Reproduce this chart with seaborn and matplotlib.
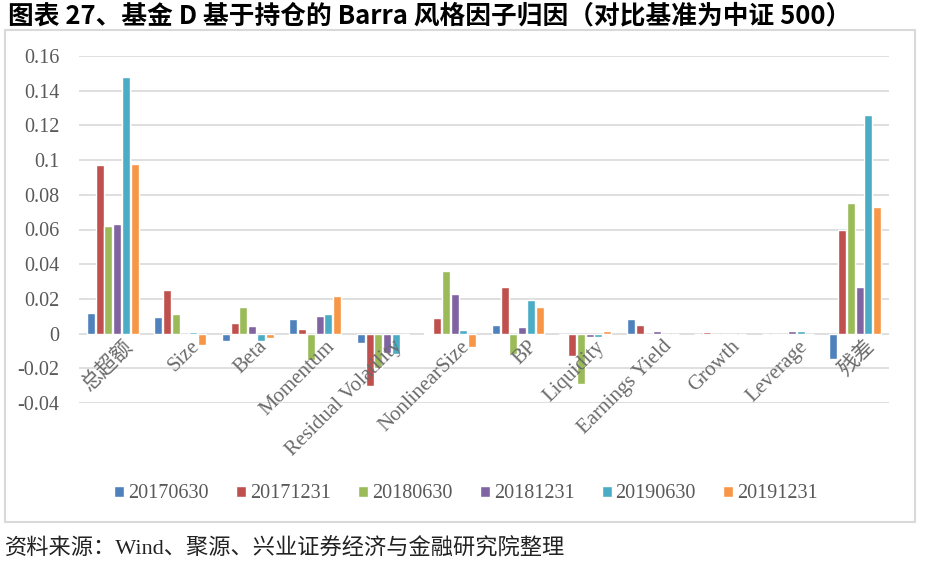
import numpy as np
import pandas as pd
import matplotlib
matplotlib.use('Agg')
import matplotlib.pyplot as plt
from matplotlib.patches import Rectangle
import seaborn as sns

# chart values
factors = ['总超额', 'Size', 'Beta', 'Momentum', 'Residual Volatility', 'NonlinearSize',
           'BP', 'Liquidity', 'Earnings Yield', 'Growth', 'Leverage', '残差']
dates = ['20170630', '20171231', '20180630', '20181231', '20190630', '20191231']
v20170630 = [0.012, 0.0098, -0.0045, 0.0085, -0.0057, 0.0002, 0.0051, -0.001, 0.0085, 0.0, 0.0, -0.0144]
v20171231 = [0.097, 0.0249, 0.0059, 0.0027, -0.030, 0.0089, 0.0266, -0.013, 0.0048, 0.001, 0.0, 0.0597]
v20180630 = [0.062, 0.0112, 0.0155, -0.015, -0.020, 0.036, -0.012, -0.029, -0.001, -0.001, 0.0, 0.0751]
v20181231 = [0.063, 0.0, 0.0043, 0.0103, -0.011, 0.0227, 0.0037, -0.002, 0.0013, 0.0, 0.0015, 0.0266]
v20190630 = [0.148, 0.001, -0.0045, 0.0114, -0.0116, 0.0018, 0.0195, -0.002, -0.001, 0.0, 0.0015, 0.1258]
v20191231 = [0.098, -0.0065, -0.0025, 0.0219, -0.001, -0.008, 0.0152, 0.0017, 0.0, 0.0, 0.0, 0.0727]
yticks = [-0.04, -0.02, 0, 0.02, 0.04, 0.06, 0.08, 0.1, 0.12, 0.14, 0.16]

colors = ['#4F81BD', '#C0504D', '#9BBB59', '#8064A2', '#4BACC6', '#F79646']
series = [v20170630, v20171231, v20180630, v20181231, v20190630, v20191231]

df = pd.DataFrame({
    'factor': np.tile(factors, len(dates)),
    'date': np.repeat(dates, len(factors)),
    'value': np.concatenate(series),
})

sns.set_style('white')
serif = ['Liberation Serif', 'Noto Sans CJK SC']

fig = plt.figure(figsize=(9.26, 5.77), dpi=100)
ax = fig.add_axes([79 / 926, 1 - 403 / 577, (889 - 79) / 926, (403 - 56) / 577])

sns.barplot(data=df, x='factor', y='value', hue='date', hue_order=dates,
            order=factors, palette=colors, width=0.78, gap=0.1,
            saturation=1, ax=ax)

handles, labels = ax.get_legend_handles_labels()
ax.get_legend().remove()

ax.set_ylim(-0.04, 0.16)
ax.set_yticks(yticks)
ax.set_yticklabels(['{:g}'.format(t) for t in yticks], family=serif,
                   fontsize=14.5, color='#595959')
ax.tick_params(axis='y', length=0, pad=14)
ax.tick_params(axis='x', length=0, labelbottom=False)
ax.set_xlabel('')
ax.set_ylabel('')
ax.yaxis.grid(True, color='#D9D9D9', lw=1.2)
ax.set_axisbelow(True)
for s in ax.spines.values():
    s.set_visible(False)

# category labels sit just under the zero line, rotated like Excel does it
for i, name in enumerate(factors):
    ax.text(i + 0.15, -0.002, name, rotation=45, rotation_mode='anchor',
            ha='right', va='top', family=serif, fontsize=15, color='#6b6b6b')

fig.legend(handles, labels, loc='center', bbox_to_anchor=(466 / 926, 1 - 494 / 577),
           ncol=6, frameon=False, handlelength=0.5, handleheight=0.5,
           handletextpad=0.2, columnspacing=1.35,
           prop={'family': serif, 'size': 14.5}, labelcolor='#595959')

# chart frame
fig.patches.append(Rectangle((5 / 926, 1 - 522 / 577), 910 / 926, 492 / 577,
                             transform=fig.transFigure, fill=False,
                             edgecolor='#D9D9D9', lw=1.5))

fig.text(8 / 926, 1 - 16 / 577, '图表 27、基金 D 基于持仓的 Barra 风格因子归因（对比基准为中证 500）',
         family=['Noto Sans CJK SC', 'DejaVu Sans'], fontweight='bold',
         fontsize=18.5, va='center', ha='left', color='black')
fig.text(5 / 926, 1 - 549 / 577, '资料来源：Wind、聚源、兴业证券经济与金融研究院整理',
         family=serif, fontsize=16, va='center', ha='left', color='#222222')

fig.savefig('out.png', dpi=100)
